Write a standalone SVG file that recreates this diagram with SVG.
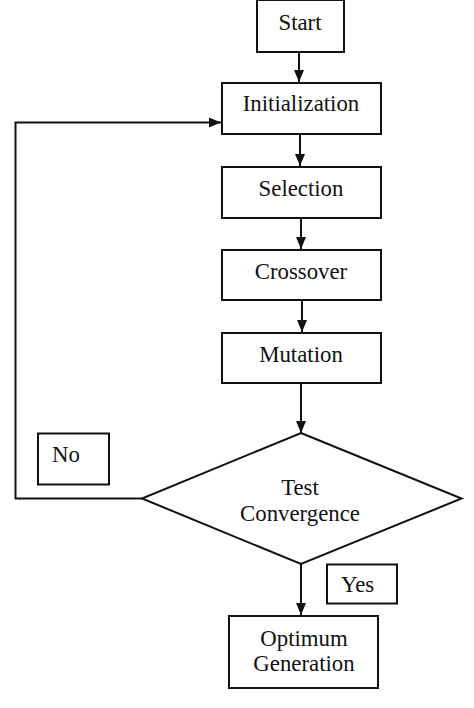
<svg xmlns="http://www.w3.org/2000/svg" width="474" height="708" viewBox="0 0 474 708">
<style>
.box{fill:#fff;stroke:#111;stroke-width:2}
.ln{fill:none;stroke:#111;stroke-width:2}
.t{font-family:'Liberation Serif','DejaVu Serif',serif;font-size:22.8px;fill:#111}
.c{text-anchor:middle}
</style>
<defs>
<marker id="ah" markerWidth="12" markerHeight="12" viewBox="0 0 12 12" refX="12" refY="6" orient="auto" markerUnits="userSpaceOnUse">
<path d="M0,1 L12,6 L0,11 Z" fill="#111"/>
</marker>
</defs>
<rect width="474" height="708" fill="#fff"/>
<g id="connectors">
<line class="ln" x1="299" y1="53" x2="299" y2="82" marker-end="url(#ah)"/>
<line class="ln" x1="300" y1="134" x2="300" y2="166" marker-end="url(#ah)"/>
<line class="ln" x1="301" y1="218" x2="301" y2="249" marker-end="url(#ah)"/>
<line class="ln" x1="302" y1="300" x2="302" y2="332" marker-end="url(#ah)"/>
<line class="ln" x1="301" y1="383" x2="301" y2="433" marker-end="url(#ah)"/>
<line class="ln" x1="301" y1="564" x2="301" y2="615" marker-end="url(#ah)"/>
<polyline class="ln" points="142,498.5 15.5,498.5 15.5,122.5 221,122.5" marker-end="url(#ah)"/>
</g>
<g id="start"><rect class="box" x="257" y="0" width="87" height="52"/><text class="t c" x="300" y="30">Start</text></g>
<g id="initialization"><rect class="box" x="222" y="83" width="159" height="51"/><text class="t c" x="301" y="111">Initialization</text></g>
<g id="selection"><rect class="box" x="222" y="167" width="159" height="51"/><text class="t c" x="301" y="196">Selection</text></g>
<g id="crossover"><rect class="box" x="222" y="250" width="159" height="50"/><text class="t c" x="301" y="279">Crossover</text></g>
<g id="mutation"><rect class="box" x="222" y="333" width="159" height="50"/><text class="t c" x="301" y="362">Mutation</text></g>
<g id="test"><polygon class="box" points="301,433 461.5,498.5 301,564 142,498.5"/><text class="t c" x="300" y="495">Test</text><text class="t c" x="300" y="521">Convergence</text></g>
<g id="no"><rect class="box" x="38" y="433.5" width="71" height="51"/><text class="t" x="52" y="462">No</text></g>
<g id="yes"><rect class="box" x="327" y="564.5" width="70" height="39"/><text class="t" x="341" y="592">Yes</text></g>
<g id="optimum"><rect class="box" x="229" y="616" width="149" height="72"/><text class="t c" x="304" y="646">Optimum</text><text class="t c" x="304" y="671">Generation</text></g>
</svg>
